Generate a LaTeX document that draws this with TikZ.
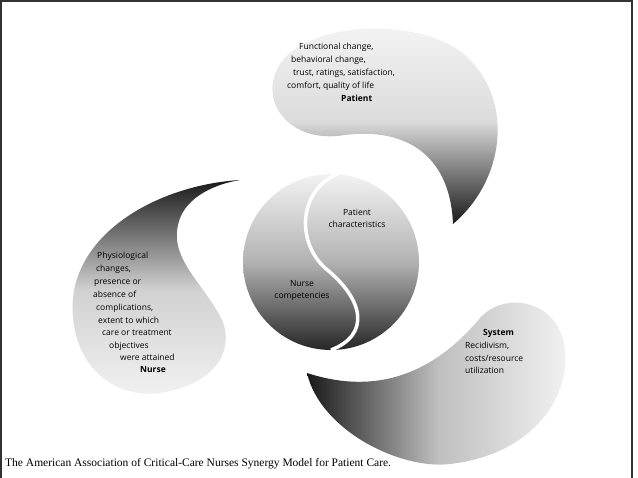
\documentclass[tikz,border=0pt]{standalone}
\usepackage{fontspec}
\setmainfont{Liberation Serif}
\newfontfamily\lab{Open Sans}
\begin{document}
\begin{tikzpicture}[x=1pt,y=-1pt,
  txt/.style={font=\lab\fontsize{8.5}{10}\selectfont,inner sep=0pt,anchor=base west},
  ctxt/.style={font=\lab\fontsize{8.5}{10}\selectfont,inner sep=0pt,anchor=base},
  bold/.style={font=\lab\bfseries\fontsize{8.5}{10}\selectfont,inner sep=0pt,anchor=base west}]
\useasboundingbox (0,0) rectangle (638,478);
\fill[white] (0,0) rectangle (638,478);
\draw[line width=1.2pt,black!80] (1,478) -- (1,1) -- (632,1) -- (632,478);
% Patient blob
\shade[shading angle=135, bottom color=black!90, top color=black!4, middle color=black!14]
 (453,224) .. controls (505,180) and (515,100) .. (465,55) .. controls (425,20) and (320,18) .. (283,60) .. controls (255,95) and (285,145) .. (345,135) .. controls (400,128) and (450,150) .. (453,224);
% Nurse blob
\shade[shading angle=40, top color=black!90, bottom color=black!5, middle color=black!18]
 (240,180) .. controls (160,185) and (80,230) .. (73,298) .. controls (68,360) and (110,400) .. (160,393) .. controls (215,385) and (235,350) .. (222,320) .. controls (205,285) and (170,260) .. (178,225) .. controls (183,200) and (210,185) .. (240,180);
% System blob
\shade[left color=black!90, right color=black!5, middle color=black!25]
 (307,373) .. controls (320,430) and (400,470) .. (450,464) .. controls (530,455) and (570,400) .. (565,350) .. controls (560,300) and (505,290) .. (480,318) .. controls (445,360) and (390,400) .. (307,373);
% center circle
\shade[top color=black!5, bottom color=black!85, middle color=black!30] (331,262) circle (88);
\draw[white,line width=3.5pt] (337,174) .. controls (300,190) and (295,240) .. (325,268) .. controls (365,300) and (370,335) .. (331,350);
% texts
\node[txt] (p1) at (299,50) {Functional change,};
\node[txt] (p2) at (291,63) {behavioral change,};
\node[txt] (p3) at (293,76) {trust, ratings, satisfaction,};
\node[txt] (p4) at (287,89) {comfort, quality of life};
\node[bold] (p5) at (341,102) {Patient};
\node[txt] (n1) at (97,259) {Physiological};
\node[txt] (n2) at (96,272) {changes,};
\node[txt] (n3) at (94,285) {presence or};
\node[txt] (n4) at (93,298) {absence of};
\node[txt] (n5) at (96,311) {complications,};
\node[txt] (n6) at (98,324) {extent to which};
\node[txt] (n7) at (102,336) {care or treatment};
\node[txt] (n8) at (109,349) {objectives};
\node[txt] (n9) at (120,361) {were attained};
\node[bold] (n10) at (140,373) {Nurse};
\node[bold] (s1) at (483,336) {System};
\node[txt] (s2) at (465,349) {Recidivism,};
\node[txt] (s3) at (465,362) {costs/resource};
\node[txt] (s4) at (465,374) {utilization};
\node[ctxt] (c1) at (357,216) {Patient};
\node[ctxt] (c2) at (357,228) {characteristics};
\node[ctxt] (c3) at (302,287) {Nurse};
\node[ctxt] (c4) at (302,299) {competencies};
\node[font=\fontsize{11.5}{13}\selectfont,inner sep=0pt,anchor=base west] (cap) at (5,467) {The American Association of Critical-Care Nurses Synergy Model for Patient Care.};
\end{tikzpicture}
\end{document}
